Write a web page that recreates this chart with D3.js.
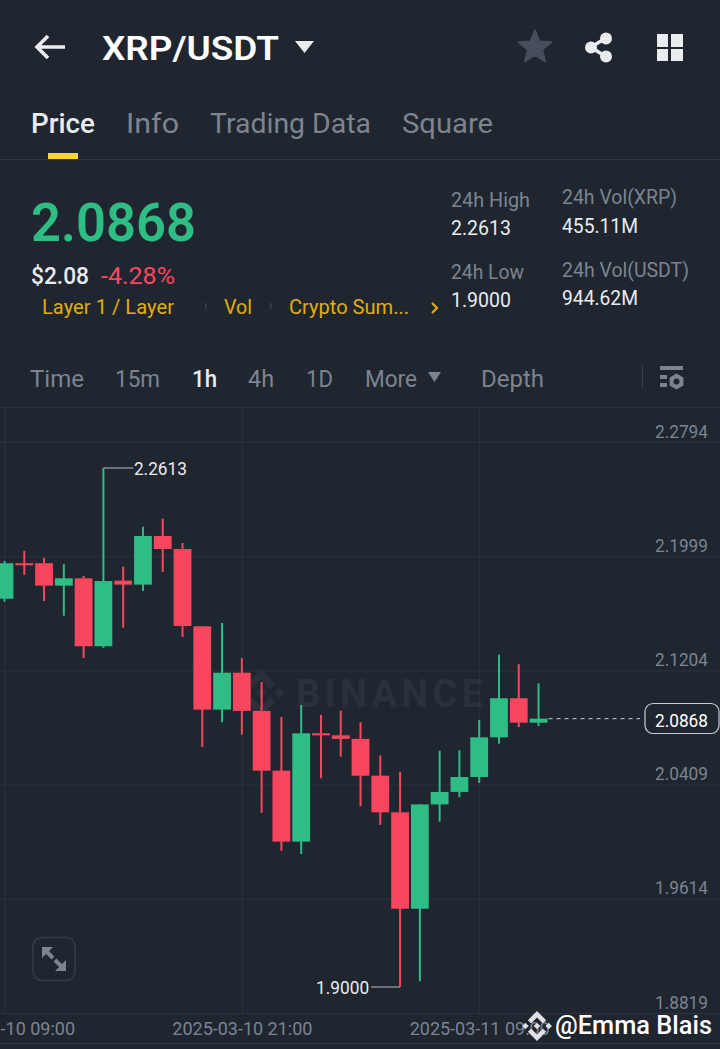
<!DOCTYPE html>
<html>
<head>
<meta charset="utf-8">
<script src="https://cdn.jsdelivr.net/npm/d3@7"></script>
<style>
  html, body { margin: 0; padding: 0; background: #1f2630; overflow: hidden; }
  svg { display: block; font-family: Roboto, "Noto Sans", sans-serif; }
</style>
</head>
<body>
<svg id="chart" width="720" height="1049"></svg>
<script>
// hourly candles, first one is 2025-03-10 09:00
const startTime = '2025-03-10 09:00';
const opens  = [2.1703,2.1950,2.1950,2.1794,2.1845,2.1372,2.1829,2.1801,2.2140,2.2049,2.1511,2.0931,2.1188,2.0922,2.0506,2.0012,2.0766,2.0752,2.0727,2.0471,2.0216,1.9545,2.0271,2.0358,2.0462,2.0738,2.1010,2.0840];
const highs  = [2.1966,2.2037,2.1989,2.1943,2.1861,2.2613,2.1926,2.2204,2.2260,2.2091,2.1513,2.1534,2.1290,2.1123,2.0880,2.0963,2.0894,2.0924,2.0843,2.0613,2.0497,2.0273,2.0645,2.0648,2.0859,2.1313,2.1247,2.1114];
const lows   = [2.1682,2.1870,2.1687,2.1585,2.1290,2.1362,2.1501,2.1757,2.1889,2.1437,2.0671,2.0843,2.0757,2.0212,1.9949,1.9926,2.0453,2.0603,2.0258,2.0128,1.9000,1.9040,2.0151,2.0321,2.0420,2.0694,2.0810,2.0817];
const closes = [2.1950,2.1936,2.1794,2.1845,2.1372,2.1826,2.1801,2.2140,2.2049,2.1513,2.0931,2.1188,2.0922,2.0506,2.0012,2.0766,2.0752,2.0727,2.0471,2.0216,1.9545,2.0271,2.0358,2.0462,2.0738,2.1010,2.0840,2.0868];

const priceTicks = [2.2794,2.1999,2.1204,2.0409,1.9614,1.8819];
const timeTicks = ['2025-03-10 09:00','2025-03-10 21:00','2025-03-11 09:00'];
const lastPrice = 2.0868, dayHigh = 2.2613, dayLow = 1.9000;

const bg = '#1f2630', green = '#2ebd85', red = '#f8465f', gridCol = '#2c333d',
      white = '#eaecef', gray = '#7c8490', gold = '#e3ad0a';

const parseT = d3.utcParse('%Y-%m-%d %H:%M');
const fmtT = d3.utcFormat('%Y-%m-%d %H:%M');
const candles = opens.map((o, i) => ({
  t: d3.utcHour.offset(parseT(startTime), i),
  o: o, h: highs[i], l: lows[i], c: closes[i]
}));

const svg = d3.select('#chart');
svg.append('rect').attr('width', 720).attr('height', 1049).attr('fill', bg);

// text helper, w = width on the picture
function txt(s, x, y, size, fill, w, weight, anchor) {
  const t = svg.append('text').attr('x', x).attr('y', y).attr('font-size', size)
    .attr('fill', fill).attr('font-weight', weight || 400).attr('text-anchor', anchor || 'start').text(s);
  if (w) t.attr('textLength', w).attr('lengthAdjust', 'spacingAndGlyphs');
  return t;
}

// scales
const x = d3.scaleUtc().domain([parseT(timeTicks[0]), parseT(timeTicks[2])]).range([4.5, 479.2]);
const y = d3.scaleLinear().domain([1.8819, 2.2794]).range([1013, 442]);
const step = x(candles[1].t) - x(candles[0].t);
const bodyW = step * 0.9;

// ---- header
svg.append('path').attr('d', 'M65 47H38M48 36L37 47L48 58').attr('fill', 'none')
  .attr('stroke', white).attr('stroke-width', 3.6);
txt('XRP/USDT', 102, 60, 34, '#fff', 177, 600);
svg.append('path').attr('d', 'M295 41H314L304.5 53Z').attr('fill', white);
// star
const star = d3.range(10).map(i => {
  const r = i % 2 ? 7.5 : 17, a = -Math.PI / 2 + i * Math.PI / 5;
  return [535 + r * Math.cos(a), 47.5 + r * Math.sin(a)];
});
svg.append('path').attr('d', d3.line()(star) + 'Z').attr('fill', '#474d5a')
  .attr('stroke', '#474d5a').attr('stroke-width', 2).attr('stroke-linejoin', 'round');
// share
svg.append('path').attr('d', 'M606 38L591 47L606 57').attr('fill', 'none').attr('stroke', white).attr('stroke-width', 3.5);
[[606, 38.5], [591, 47.5], [606, 56.5]].forEach(p => svg.append('circle').attr('cx', p[0]).attr('cy', p[1]).attr('r', 6).attr('fill', white));
// grid icon
[[657, 34, 11, 13], [671, 34, 12, 13], [657, 49, 11, 12], [671, 49, 12, 12]].forEach(r =>
  svg.append('rect').attr('x', r[0]).attr('y', r[1]).attr('width', r[2]).attr('height', r[3]).attr('fill', white));

txt('Price', 31, 133, 27, white, 64, 500);
txt('Info', 126, 133, 27, gray, 53);
txt('Trading Data', 210, 133, 27, gray, 161);
txt('Square', 402, 133, 27, gray, 91);
svg.append('rect').attr('x', 48).attr('y', 153).attr('width', 30).attr('height', 6).attr('fill', '#fcd535');
svg.append('rect').attr('x', 0).attr('y', 159).attr('width', 720).attr('height', 1).attr('fill', '#2f3640');

// ---- price block
txt('2.0868', 31, 241, 54, green, 165, 600);
txt('$2.08', 31, 284, 23, white, 58, 500);
txt('-4.28%', 101, 284, 23, red, 74);
txt('Layer 1 / Layer', 42, 314, 20, gold, 132);
txt('Vol', 224, 314, 20, gold, 28);
txt('Crypto Sum...', 289, 314, 20, gold, 120);
[205, 270].forEach(px => svg.append('rect').attr('x', px).attr('y', 303).attr('width', 1.5).attr('height', 6).attr('fill', '#3a414c'));
svg.append('path').attr('d', 'M432 303L437 308L432 313').attr('fill', 'none').attr('stroke', gold).attr('stroke-width', 2.2);

txt('24h High', 451, 207, 20, gray, 79);
txt('2.2613', 451, 235, 20, white, 60);
txt('24h Low', 451, 279, 20, gray, 73);
txt('1.9000', 451, 307, 20, white, 60);
txt('24h Vol(XRP)', 562, 204, 20, gray, 115);
txt('455.11M', 562, 233, 20, white, 76);
txt('24h Vol(USDT)', 562, 277, 20, gray, 127);
txt('944.62M', 562, 305, 20, white, 76);

// ---- interval row
txt('Time', 30, 387, 24, gray, 54);
txt('15m', 115, 387, 24, gray, 45);
txt('1h', 192, 387, 24, white, 25, 500);
txt('4h', 248, 387, 24, gray, 26);
txt('1D', 306, 387, 24, gray, 27);
txt('More', 365, 387, 24, gray, 52);
svg.append('path').attr('d', 'M428 372H441L434.5 382Z').attr('fill', gray);
txt('Depth', 481, 387, 24, gray, 63);
svg.append('rect').attr('x', 642).attr('y', 365).attr('width', 1).attr('height', 23).attr('fill', '#3a414c');
// settings icon
svg.append('rect').attr('x', 660).attr('y', 366).attr('width', 23).attr('height', 4).attr('fill', gray);
svg.append('rect').attr('x', 660).attr('y', 375).attr('width', 7).attr('height', 4).attr('fill', gray);
svg.append('rect').attr('x', 660).attr('y', 383).attr('width', 7).attr('height', 4).attr('fill', gray);
const hex = d3.range(6).map(i => {
  const a = -Math.PI / 2 + i * Math.PI / 3;
  return [676.5 + 8 * Math.cos(a), 381.5 + 8 * Math.sin(a)];
});
svg.append('path').attr('d', d3.line()(hex) + 'Z M679.5 381.5A3 3 0 1 0 673.5 381.5A3 3 0 1 0 679.5 381.5Z')
  .attr('fill', gray).attr('fill-rule', 'evenodd');

// ---- chart frame
svg.append('rect').attr('x', 0).attr('y', 407).attr('width', 720).attr('height', 1).attr('fill', gridCol);
svg.append('rect').attr('x', 0).attr('y', 1043).attr('width', 720).attr('height', 1).attr('fill', '#343b45');

// axes
const yAxis = d3.axisLeft(y).tickValues(priceTicks).tickFormat(d3.format('.4f')).tickSize(720).tickPadding(0);
const yG = svg.append('g').attr('transform', 'translate(720,0)').call(yAxis);
yG.select('.domain').remove();
yG.selectAll('line').attr('stroke', gridCol);
yG.selectAll('text').attr('x', -12).attr('dy', -5).attr('dominant-baseline', 'auto')
  .attr('y', 0).attr('font-size', 18).attr('font-family', 'Roboto').attr('fill', gray)
  .attr('textLength', 53).attr('lengthAdjust', 'spacingAndGlyphs');

const xAxis = d3.axisBottom(x).tickValues(timeTicks.map(parseT)).tickFormat(fmtT).tickSize(-605).tickPadding(0);
const xG = svg.append('g').attr('transform', 'translate(0,1013)').call(xAxis);
xG.select('.domain').remove();
xG.selectAll('line').attr('stroke', gridCol);
xG.selectAll('text').attr('y', 22).attr('dy', 0).attr('font-size', 18).attr('font-family', 'Roboto').attr('fill', gray)
  .attr('textLength', 140).attr('lengthAdjust', 'spacingAndGlyphs');

// watermark
const logoPath = 'M0 -10L6.1 -3.9L3.9 -1.7L0 -5.6L-3.9 -1.7L-6.1 -3.9Z' +
  'M0 10L6.1 3.9L3.9 1.7L0 5.6L-3.9 1.7L-6.1 3.9Z' +
  'M-10 0L-7.8 -2.2L-5.6 0L-7.8 2.2Z M10 0L7.8 -2.2L5.6 0L7.8 2.2Z' +
  'M0 -2.2L2.2 0L0 2.2L-2.2 0Z';
svg.append('path').attr('d', logoPath).attr('fill', '#2a313b')
  .attr('transform', 'translate(261,693) scale(2.35)');
txt('BINANCE', 296, 707, 38, '#2a313b', 187, 700).attr('lengthAdjust', 'spacing');

// ---- candles
const colorOf = d => d.c >= d.o ? green : red;
const candle = svg.append('g').selectAll('g').data(candles).join('g');
candle.append('line')
  .attr('x1', d => x(d.t)).attr('x2', d => x(d.t))
  .attr('y1', d => y(d.h)).attr('y2', d => y(d.l))
  .attr('stroke', colorOf).attr('stroke-width', 2);
candle.append('rect')
  .attr('x', d => x(d.t) - bodyW / 2)
  .attr('y', d => y(Math.max(d.o, d.c)))
  .attr('width', bodyW)
  .attr('height', d => Math.max(2, Math.abs(y(d.o) - y(d.c))))
  .attr('fill', colorOf);

// ---- high / low markers
const hi = candles.find(d => d.h === dayHigh), lo = candles.find(d => d.l === dayLow);
svg.append('line').attr('x1', x(hi.t)).attr('x2', x(hi.t) + 30).attr('y1', y(dayHigh)).attr('y2', y(dayHigh)).attr('stroke', '#868d98').attr('stroke-width', 1.5);
txt(d3.format('.4f')(dayHigh), x(hi.t) + 30.5, y(dayHigh) + 7, 18, white, 53);
svg.append('line').attr('x1', x(lo.t) - 29).attr('x2', x(lo.t)).attr('y1', y(dayLow)).attr('y2', y(dayLow)).attr('stroke', '#868d98').attr('stroke-width', 1.5);
txt(d3.format('.4f')(dayLow), x(lo.t) - 84, y(dayLow) + 7, 18, white, 53);

// ---- last price line and tag
svg.append('line').attr('x1', x(candles[27].t) + 10).attr('x2', 640).attr('y1', y(lastPrice)).attr('y2', y(lastPrice))
  .attr('stroke', '#c9cdd2').attr('stroke-width', 1).attr('stroke-dasharray', '4 4');
svg.append('rect').attr('x', 645).attr('y', 703.5).attr('width', 74).attr('height', 30).attr('rx', 8)
  .attr('fill', bg).attr('stroke', '#c9cdd2').attr('stroke-width', 1.2);
txt(d3.format('.4f')(lastPrice), 655, 727, 18, '#fff', 53);

// ---- expand button
svg.append('rect').attr('x', 33).attr('y', 937.5).attr('width', 42).attr('height', 43).attr('rx', 9)
  .attr('fill', 'none').attr('stroke', '#363d48').attr('stroke-width', 1.5);
svg.append('path').attr('d', 'M42 947H53L42 958Z M66 971H55L66 960Z').attr('fill', gray);
svg.append('path').attr('d', 'M46 951L53 958M62 967L55 960').attr('stroke', gray).attr('stroke-width', 4);

// ---- bottom overlay
svg.append('path').attr('d', logoPath).attr('fill', '#dfe1e4')
  .attr('stroke', bg).attr('stroke-width', 0.5).attr('paint-order', 'stroke')
  .attr('transform', 'translate(537,1026) scale(1.5)');
txt('@Emma Blais', 555, 1034, 26, '#fff', 157, 500);
</script>
</body>
</html>
